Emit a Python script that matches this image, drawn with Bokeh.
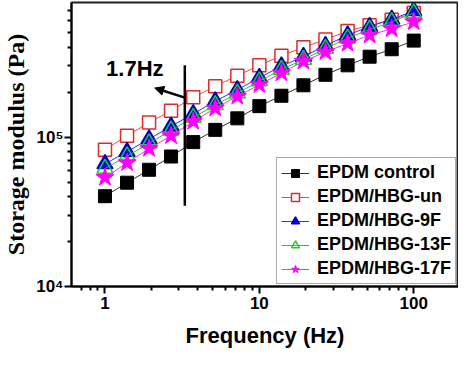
from bokeh.plotting import figure
from bokeh.models import Range1d, FixedTicker, Arrow, NormalHead, Label
from bokeh.embed import file_html
from bokeh.resources import INLINE

# ---- data ----
freq = [1.0, 1.39, 1.93, 2.68, 3.73, 5.18, 7.2, 10.0, 13.9, 19.3, 26.8, 37.3, 51.8, 72.0, 100.0]
epdm_control = [40200, 49500, 60400, 74100, 92500, 111700, 133400, 161000, 189000, 222000,
                261000, 302000, 345000, 387000, 442000]
hbg_un = [82200, 101900, 125000, 150000, 184500, 219000, 257000, 302000, 350000, 399000,
          449000, 512000, 559000, 610000, 676000]
hbg_9f = [66100, 79800, 97000, 118000, 143000, 174000, 207000, 250000, 298000, 345000,
          409000, 481000, 549000, 613000, 699000]
hbg_13f = [61500, 74500, 91000, 111000, 135000, 164000, 196000, 237000, 283000, 330000,
           391000, 458000, 525000, 590000, 675000]
hbg_17f = [53600, 67300, 83800, 102000, 127000, 156000, 187000, 224000, 268000, 321000,
           371000, 423000, 481000, 530000, 590000]

x_ticks = [1, 10, 100]
x_tick_labels = ["1", "10", "100"]
x_minor = [0.7, 0.8, 0.9, 2, 3, 4, 5, 6, 7, 8, 9, 20, 30, 40, 50, 60, 70, 80, 90]
y_ticks = [10000, 100000]
y_tick_labels = ["10\u2074", "10\u2075"]
y_minor = [20000, 30000, 40000, 50000, 60000, 70000, 80000, 90000,
           200000, 300000, 400000, 500000, 600000, 700000]
x_title = "Frequency (Hz)"
y_title = "Storage modulus (Pa)"

cutoff_x = [3.29, 3.29]
cutoff_y = [34700, 302000]
arrow_x = [3.29, 2.10]
arrow_y = [183600, 212800]
note_text = "1.7Hz"
note_x = 1.56
note_y = 289000

SANS = "Liberation Sans"
SERIF = "Liberation Serif"

p = figure(width=458, height=350, x_axis_type="log", y_axis_type="log",
           x_range=Range1d(0.607, 195), y_range=Range1d(10000, 795000),
           output_backend="svg", toolbar_location=None,
           min_border_left=0, min_border_right=0, min_border_top=2, min_border_bottom=0)
p.background_fill_color = "white"
p.border_fill_color = "white"
p.outline_line_color = "#222222"
p.outline_line_width = 2
p.xgrid.visible = False
p.ygrid.visible = False

# axes
p.xaxis.ticker = FixedTicker(ticks=x_ticks, minor_ticks=x_minor)
p.yaxis.ticker = FixedTicker(ticks=y_ticks, minor_ticks=y_minor)
p.xaxis.major_label_overrides = {t: l for t, l in zip(x_ticks, x_tick_labels)}
p.yaxis.major_label_overrides = {t: l for t, l in zip(y_ticks, y_tick_labels)}
for ax in (p.xaxis[0], p.yaxis[0]):
    ax.axis_line_width = 2
    ax.axis_line_color = "black"
    ax.major_tick_line_width = 2
    ax.minor_tick_line_width = 2
    ax.major_tick_in = 0
    ax.major_tick_out = 7
    ax.minor_tick_in = 0
    ax.minor_tick_out = 4
    ax.major_label_text_font = SANS
    ax.major_label_text_font_style = "bold"
    ax.major_label_text_font_size = "17px"
    ax.major_label_text_color = "black"
    ax.axis_label_text_color = "black"
    ax.axis_label_text_font_style = "bold"
p.xaxis.major_label_standoff = 3
p.yaxis.major_label_standoff = 1
p.xaxis.axis_label = x_title
p.xaxis.axis_label_text_font = SANS
p.xaxis.axis_label_text_font_size = "22px"
p.xaxis.axis_label_standoff = 11
p.yaxis.axis_label = y_title
p.yaxis.axis_label_text_font = SERIF
p.yaxis.axis_label_text_font_size = "24px"
p.yaxis.axis_label_standoff = 4

# series
p.line(freq, epdm_control, line_color="#333333", line_width=1, legend_label="EPDM control")
p.scatter(freq, epdm_control, marker="square", size=13, fill_color="black",
          line_color="black", legend_label="EPDM control")

p.line(freq, hbg_un, line_color="#e05050", line_width=1, legend_label="EPDM/HBG-un")
p.scatter(freq, hbg_un, marker="square", size=13, fill_color="white",
          line_color="#e02a2a", line_width=1.5, legend_label="EPDM/HBG-un")

p.line(freq, hbg_9f, line_color="#3030ff", line_width=1, legend_label="EPDM/HBG-9F")
p.scatter(freq, hbg_9f, marker="triangle", size=16, fill_color="#0000ff",
          line_color="#0000aa", line_width=1.5, legend_label="EPDM/HBG-9F")

p.line(freq, hbg_13f, line_color="#30c030", line_width=1, legend_label="EPDM/HBG-13F")
p.scatter(freq, hbg_13f, marker="triangle", size=16, fill_color="white", fill_alpha=0,
          line_color="#22cc22", line_width=1.5, legend_label="EPDM/HBG-13F")

p.line(freq, hbg_17f, line_color="#e040e0", line_width=1, legend_label="EPDM/HBG-17F")
p.scatter(freq, hbg_17f, marker="star", size=19, fill_color="#ff00ff",
          line_color="#ff00ff", line_width=1, legend_label="EPDM/HBG-17F")

# annotation
p.line(cutoff_x, cutoff_y, line_color="black", line_width=2.5)
p.add_layout(Arrow(end=NormalHead(size=9, fill_color="black", line_color="black"),
                   x_start=arrow_x[0], y_start=arrow_y[0], x_end=arrow_x[1], y_end=arrow_y[1],
                   line_width=2.5, line_color="black"))
p.add_layout(Label(x=note_x, y=note_y, text=note_text, text_font=SANS,
                   text_font_style="bold", text_font_size="22px",
                   text_align="center", text_baseline="middle", text_color="black"))

# legend
lg = p.legend[0]
lg.location = "bottom_right"
lg.margin = 2
lg.padding = 4
lg.spacing = 3
lg.glyph_width = 28
lg.glyph_height = 20
lg.label_height = 20
lg.label_standoff = 8
lg.label_text_font = SANS
lg.label_text_font_style = "bold"
lg.label_text_font_size = "18px"
lg.label_text_color = "black"
lg.border_line_color = "#555555"
lg.border_line_width = 1
lg.background_fill_alpha = 1

open("out.html", "w").write(file_html(p, INLINE))
